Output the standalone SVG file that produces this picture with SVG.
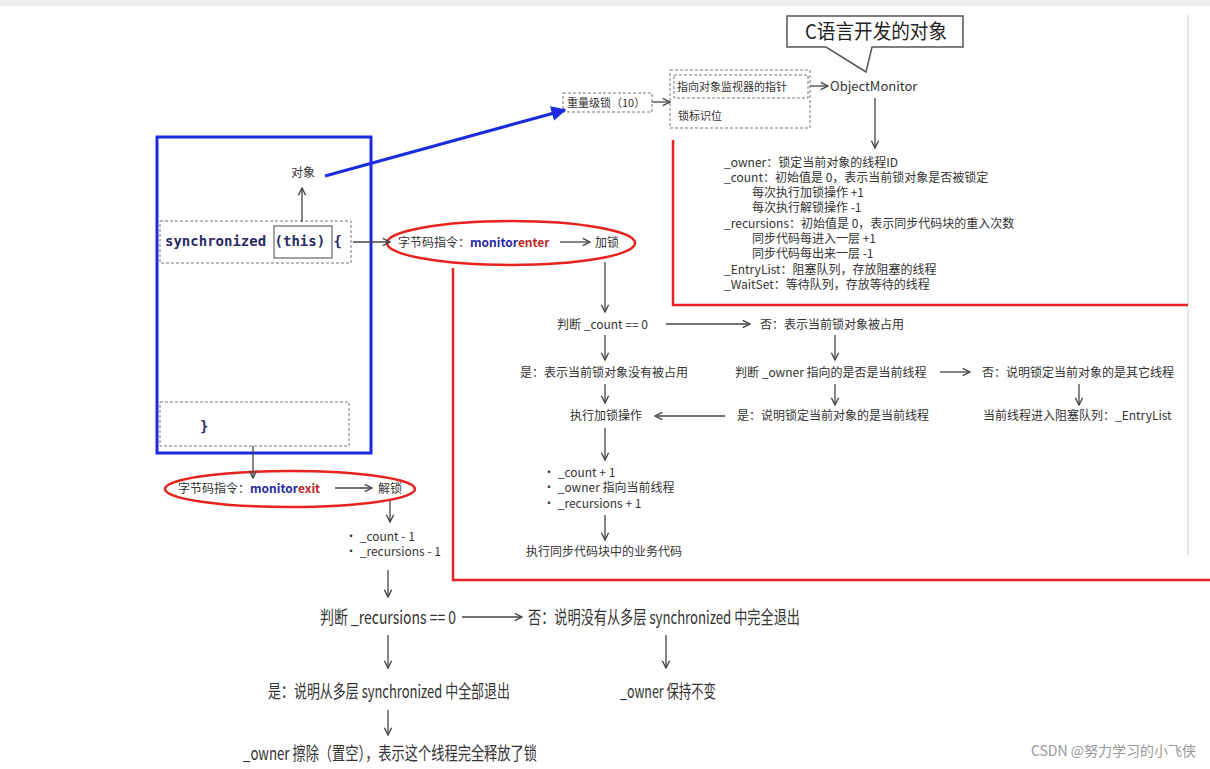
<svg xmlns="http://www.w3.org/2000/svg" width="1210" height="769" viewBox="0 0 1210 769">
<defs>
<marker id="ah" viewBox="0 0 10 10" refX="9" refY="5" markerWidth="7" markerHeight="7" orient="auto-start-reverse"><path d="M1,1 L9,5 L1,9" fill="none" stroke="#444" stroke-width="1.5"/></marker>
<marker id="bh" viewBox="0 0 10 10" refX="9" refY="5" markerWidth="5" markerHeight="5" orient="auto"><path d="M0,0 L10,5 L0,10 z" fill="#1a2be0"/></marker>
<style>
text{font-family:"Noto Sans CJK SC","Liberation Sans",sans-serif;fill:#333;font-size:12px}
.b{font-size:18px}
.c{font-family:"DejaVu Sans Mono",monospace;font-weight:bold;fill:#2a2a66;font-size:14px}
.cn{stroke:#444;stroke-width:1.3;fill:none;marker-end:url(#ah)}
.d{fill:none;stroke:#777;stroke-dasharray:3,2;stroke-width:1}
.r{fill:none;stroke:#e8231d;stroke-width:2.5}
</style>
</defs>
<rect width="1210" height="769" fill="#fff"/>
<rect width="1210" height="6" fill="#eee"/>
<line x1="1188" y1="15" x2="1188" y2="555" stroke="#e6e6e6" stroke-width="2"/>
<g id="code">
<rect x="157" y="137" width="214" height="316" fill="none" stroke="#1a2be0" stroke-width="3"/>
<rect class="d" x="160" y="221" width="191" height="42"/>
<rect x="274" y="226" width="58" height="32" fill="none" stroke="#666" stroke-width="1.2"/>
<text class="c" x="165" y="246">synchronized (this) {</text>
<text x="291" y="177">对象</text>
<rect class="d" x="160" y="402" width="189" height="44"/>
<text class="c" x="200" y="431">}</text>
</g>
<g id="exit">
<ellipse class="r" cx="290" cy="489" rx="125" ry="18"/>
<text x="178" y="493">字节码指令：<tspan font-weight="bold" fill="#2a2aa0">monitor</tspan><tspan font-weight="bold" fill="#c0282a">exit</tspan></text>
<text x="378" y="493">解锁</text>
<text x="345" y="541">• _count - 1</text>
<text x="345" y="556">• _recursions - 1</text>
</g>
<g id="release">
<text class="b" x="320" y="624" textLength="136" lengthAdjust="spacingAndGlyphs">判断 _recursions == 0</text>
<text class="b" x="528" y="624" textLength="272" lengthAdjust="spacingAndGlyphs">否：说明没有从多层 synchronized 中完全退出</text>
<text class="b" x="268" y="698" textLength="242" lengthAdjust="spacingAndGlyphs">是：说明从多层 synchronized 中全部退出</text>
<text class="b" x="620" y="698" textLength="96" lengthAdjust="spacingAndGlyphs">_owner 保持不变</text>
<text class="b" x="243" y="760" textLength="294" lengthAdjust="spacingAndGlyphs">_owner 擦除（置空），表示这个线程完全释放了锁</text>
</g>
<g id="enter">
<ellipse class="r" cx="511" cy="243" rx="124" ry="22"/>
<text x="398" y="247">字节码指令：<tspan font-weight="bold" fill="#2a2aa0">monitor</tspan><tspan font-weight="bold" fill="#c0282a">enter</tspan></text>
<text x="595" y="247">加锁</text>
</g>
<g id="header">
<rect class="d" x="563" y="93" width="89" height="19"/>
<text x="567" y="107" style="font-size:11px">重量级锁（10）</text>
<rect class="d" x="670" y="70" width="140" height="58"/>
<rect class="d" x="674" y="75" width="134" height="23"/>
<text x="677" y="91" style="font-size:11px">指向对象监视器的指针</text>
<text x="678" y="120" style="font-size:11px">锁标识位</text>
<text x="830" y="91" style="font-size:13px">ObjectMonitor</text>
<path d="M787,16 H963 V47 H872 L866,72 L826,47 H787 Z" fill="#fff" stroke="#555" stroke-width="1.5"/>
<text x="805" y="39" style="font-size:20px;fill:#222" textLength="142" lengthAdjust="spacingAndGlyphs">C语言开发的对象</text>
</g>
<g id="fields">
<text x="724" y="167">_owner：锁定当前对象的线程ID</text>
<text x="724" y="182">_count：初始值是 0，表示当前锁对象是否被锁定</text>
<text x="752" y="197">每次执行加锁操作 +1</text>
<text x="752" y="212">每次执行解锁操作  -1</text>
<text x="724" y="228">_recursions：初始值是 0，表示同步代码块的重入次数</text>
<text x="752" y="243">同步代码每进入一层 +1</text>
<text x="752" y="258">同步代码每出来一层 -1</text>
<text x="724" y="274">_EntryList：阻塞队列，存放阻塞的线程</text>
<text x="724" y="289">_WaitSet：等待队列，存放等待的线程</text>
</g>
<g id="flow">
<text x="557" y="329">判断 _count == 0</text>
<text x="760" y="329">否：表示当前锁对象被占用</text>
<text x="520" y="377">是：表示当前锁对象没有被占用</text>
<text x="735" y="377">判断 _owner 指向的是否是当前线程</text>
<text x="982" y="377">否：说明锁定当前对象的是其它线程</text>
<text x="570" y="420">执行加锁操作</text>
<text x="737" y="420">是：说明锁定当前对象的是当前线程</text>
<text x="983" y="420">当前线程进入阻塞队列：_EntryList</text>
<text x="543" y="477">• _count + 1</text>
<text x="543" y="492">• _owner 指向当前线程</text>
<text x="543" y="508">• _recursions + 1</text>
<text x="526" y="556">执行同步代码块中的业务代码</text>
</g>
<g id="connectors">
<line x1="325" y1="176" x2="565" y2="110" stroke="#1a2be0" stroke-width="3" marker-end="url(#bh)"/>
<line class="cn" x1="302" y1="222" x2="302" y2="188"/>
<line class="cn" x1="353" y1="242" x2="390" y2="242"/>
<line class="cn" x1="253" y1="446" x2="253" y2="478"/>
<line class="cn" x1="335" y1="488" x2="372" y2="488"/>
<line class="cn" x1="390" y1="501" x2="390" y2="522"/>
<line class="cn" x1="388" y1="570" x2="388" y2="597"/>
<line class="cn" x1="462" y1="617" x2="522" y2="617"/>
<line class="cn" x1="388" y1="635" x2="388" y2="668"/>
<line class="cn" x1="666" y1="635" x2="666" y2="668"/>
<line class="cn" x1="388" y1="710" x2="388" y2="735"/>
<line class="cn" x1="560" y1="242" x2="590" y2="242"/>
<line class="cn" x1="652" y1="102" x2="670" y2="102"/>
<line class="cn" x1="810" y1="86" x2="828" y2="86"/>
<line class="cn" x1="875" y1="98" x2="875" y2="148"/>
<line class="cn" x1="605" y1="262" x2="605" y2="312"/>
<line class="cn" x1="666" y1="324" x2="750" y2="324"/>
<line class="cn" x1="605" y1="335" x2="605" y2="360"/>
<line class="cn" x1="835" y1="335" x2="835" y2="360"/>
<line class="cn" x1="940" y1="372" x2="970" y2="372"/>
<line class="cn" x1="605" y1="384" x2="605" y2="403"/>
<line class="cn" x1="725" y1="416" x2="655" y2="416"/>
<line class="cn" x1="835" y1="384" x2="835" y2="405"/>
<line class="cn" x1="1079" y1="384" x2="1079" y2="405"/>
<line class="cn" x1="605" y1="428" x2="605" y2="460"/>
<line class="cn" x1="605" y1="515" x2="605" y2="540"/>
<polyline class="r" points="453,268 453,580 1210,580"/>
<polyline class="r" points="673,140 673,305 1188,305"/>
</g>
<text x="1196" y="756" text-anchor="end" style="font-size:14px;fill:#999">CSDN @努力学习的小飞侠</text>
</svg>
